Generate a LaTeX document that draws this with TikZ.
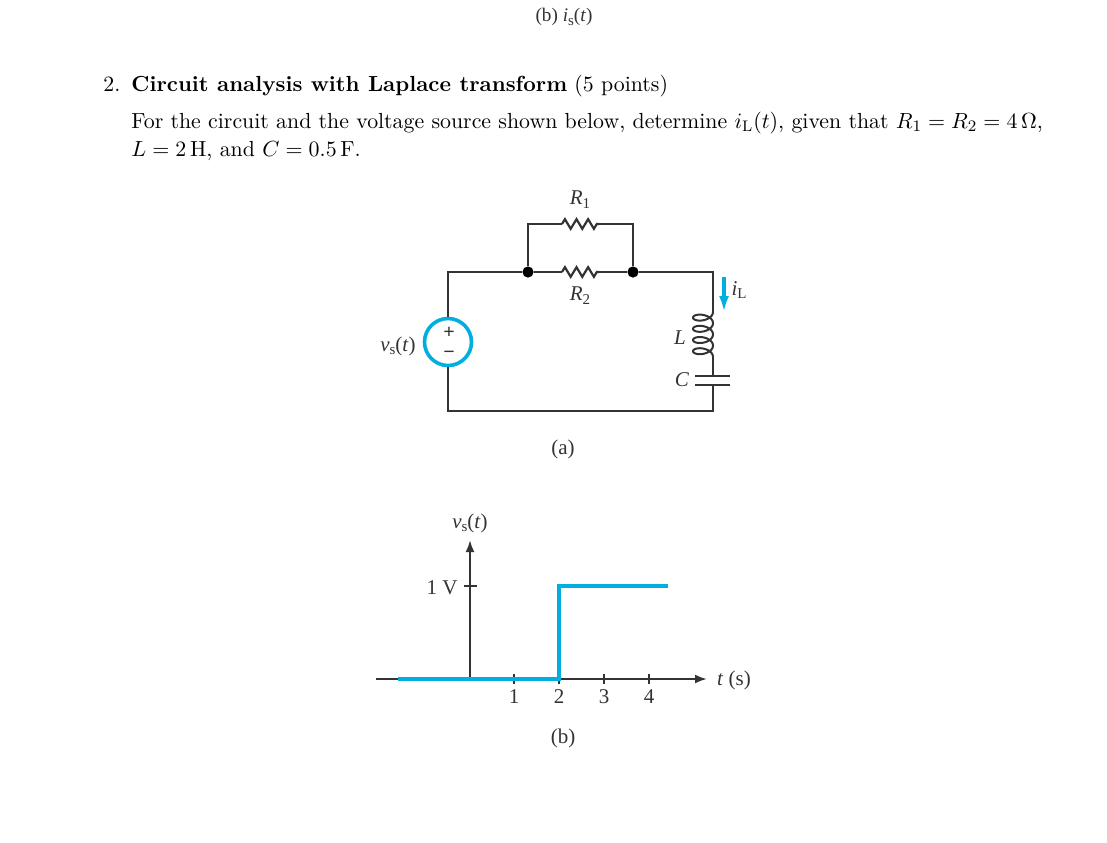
\documentclass[tikz,border=0pt]{standalone}
\usepackage{fontspec}
\newfontfamily\figfont{Liberation Serif}
\usetikzlibrary{arrows.meta,positioning,decorations.pathmorphing}
\definecolor{wirecol}{HTML}{333333}
\definecolor{bluecol}{HTML}{00AEDF}
\newcommand{\figsub}[1]{\raisebox{-0.4ex}{\fontsize{7.5}{8}\selectfont\upshape #1}}
\begin{document}
\begin{tikzpicture}[x=0.5pt, y=-0.5pt, >=Latex]
\tikzstyle{wire}=[draw=wirecol, line width=1.1pt, line join=miter]
\tikzstyle{res}=[wire, decorate, decoration={zigzag, segment length=5.8pt, amplitude=2.4pt}]
\tikzstyle{dot}=[circle, fill=black, inner sep=0pt, minimum size=5.6pt]
\tikzstyle{txt}=[inner sep=0pt, anchor=base west, font=\fontsize{10.92}{13}\selectfont]
\tikzstyle{fig}=[inner sep=0pt, text=wirecol, font=\figfont\fontsize{10.5}{12}\selectfont]
\tikzstyle{sign}=[inner sep=0pt, text=wirecol, font=\figfont\bfseries\fontsize{10}{10}\selectfont]
\tikzstyle{blue}=[draw=bluecol, line width=1.6pt]
\useasboundingbox (0,0) rectangle (1107,842);
% text
\node[fig, font=\figfont\fontsize{9.6}{12}\selectfont] (top) at (564,17) {(b) \textit{i}\figsub{s}(\textit{t})};
\node[txt] (num) at (103,91) {2.};
\node[txt] (title) at (131,91) {\textbf{Circuit analysis with Laplace transform} (5 points)};
\node[txt] (line1) at (131,128) {For the circuit and the voltage source shown below, determine $i_{\mathrm{L}}(t)$, given that $R_1=R_2=4\,\Omega$,};
\node[txt] (line2) at (131,156) {$L=2\,\mathrm{H}$, and $C=0.5\,\mathrm{F}$.};
% circuit
\coordinate (tl) at (448,272);
\coordinate (tr) at (713,272);
\coordinate (bl) at (448,411);
\coordinate (br) at (713,411);
\node[dot] (na) at (528,272) {};
\node[dot] (nb) at (633,272) {};
\coordinate (ra) at (562,224);
\coordinate (rb) at (599,224);
\coordinate (sa) at (562,272);
\coordinate (sb) at (599,272);
\coordinate (coila) at (713,312);
\coordinate (coilb) at (713,357);
\coordinate (capa) at (713,376);
\coordinate (capb) at (713,385);
\node[circle, blue, line width=1.8pt, minimum size=23.5pt, inner sep=0pt, fill=white] (src) at (448,342) {};
\draw[wire] (src.north) -- (tl) -- (na) -- (sa);
\draw[wire] (sb) -- (nb) -- (tr) -- (coila);
\draw[wire] (na) |- (ra);
\draw[wire] (nb) |- (rb);
\draw[res] (ra) -- (rb);
\draw[res] (sa) -- (sb);
\draw[wire, line width=1pt] (coila) plot[domain=0:1440, samples=160, smooth] ({703+10*cos(\x)},{312+\x*11.2/360+5.5*sin(\x)});
\draw[wire] (coilb) -- (capa);
\draw[wire] (695,376) -- (730,376);
\draw[wire] (695,385) -- (730,385);
\draw[wire] (capb) -- (br) -- (bl) -- (src.south);
\node[sign] (plus) at (449,332.5) {+};
\node[sign] (minus) at (449,354.5) {\textminus};
\draw[blue, line width=1.7pt, -{Latex[length=8pt,width=5pt]}] (724,277) coordinate (ia) -- (724,312) coordinate (ib);
\node[fig] (lr1) at (580,200) {\textit{R}\figsub{1}};
\node[fig] (lr2) at (580,296) {\textit{R}\figsub{2}};
\node[fig] (lvs) at (398,346) {\textit{v}\figsub{s}(\textit{t})};
\node[fig] (lil) at (739,290) {\textit{i}\figsub{L}};
\node[fig] (ll) at (680,338) {\textit{L}};
\node[fig] (lc) at (682,380) {\textit{C}};
\node[fig] (capta) at (563,449) {(a)};
% graph
\coordinate (o) at (470,679);
\coordinate (ytop) at (470,540);
\coordinate (xl) at (376,679);
\coordinate (xr) at (707,679);
\draw[wire, -{Latex[length=6pt,width=4.5pt]}] (o) -- (ytop);
\draw[wire, -{Latex[length=6pt,width=4.5pt]}] (xl) -- (xr);
\draw[wire] (464,586) -- (477,586);
\foreach \px/\lab in {514/1,559/2,604/3,649/4}{
  \draw[wire] (\px,674) -- (\px,684);
  \node[fig] (t\lab) at (\px,697) {\lab};
}
\draw[blue, line join=miter] (398,679) coordinate (sl) -- (559,679) -- (559,586) -- (668,586) coordinate (sr);
\node[fig] (lv) at (470,523) {\textit{v}\figsub{s}(\textit{t})};
\node[fig] (l1v) at (442,588) {1 V};
\node[fig] (lt) at (734,680) {\textit{t} (s)};
\node[fig] (captb) at (563,738) {(b)};
\end{tikzpicture}
\end{document}
